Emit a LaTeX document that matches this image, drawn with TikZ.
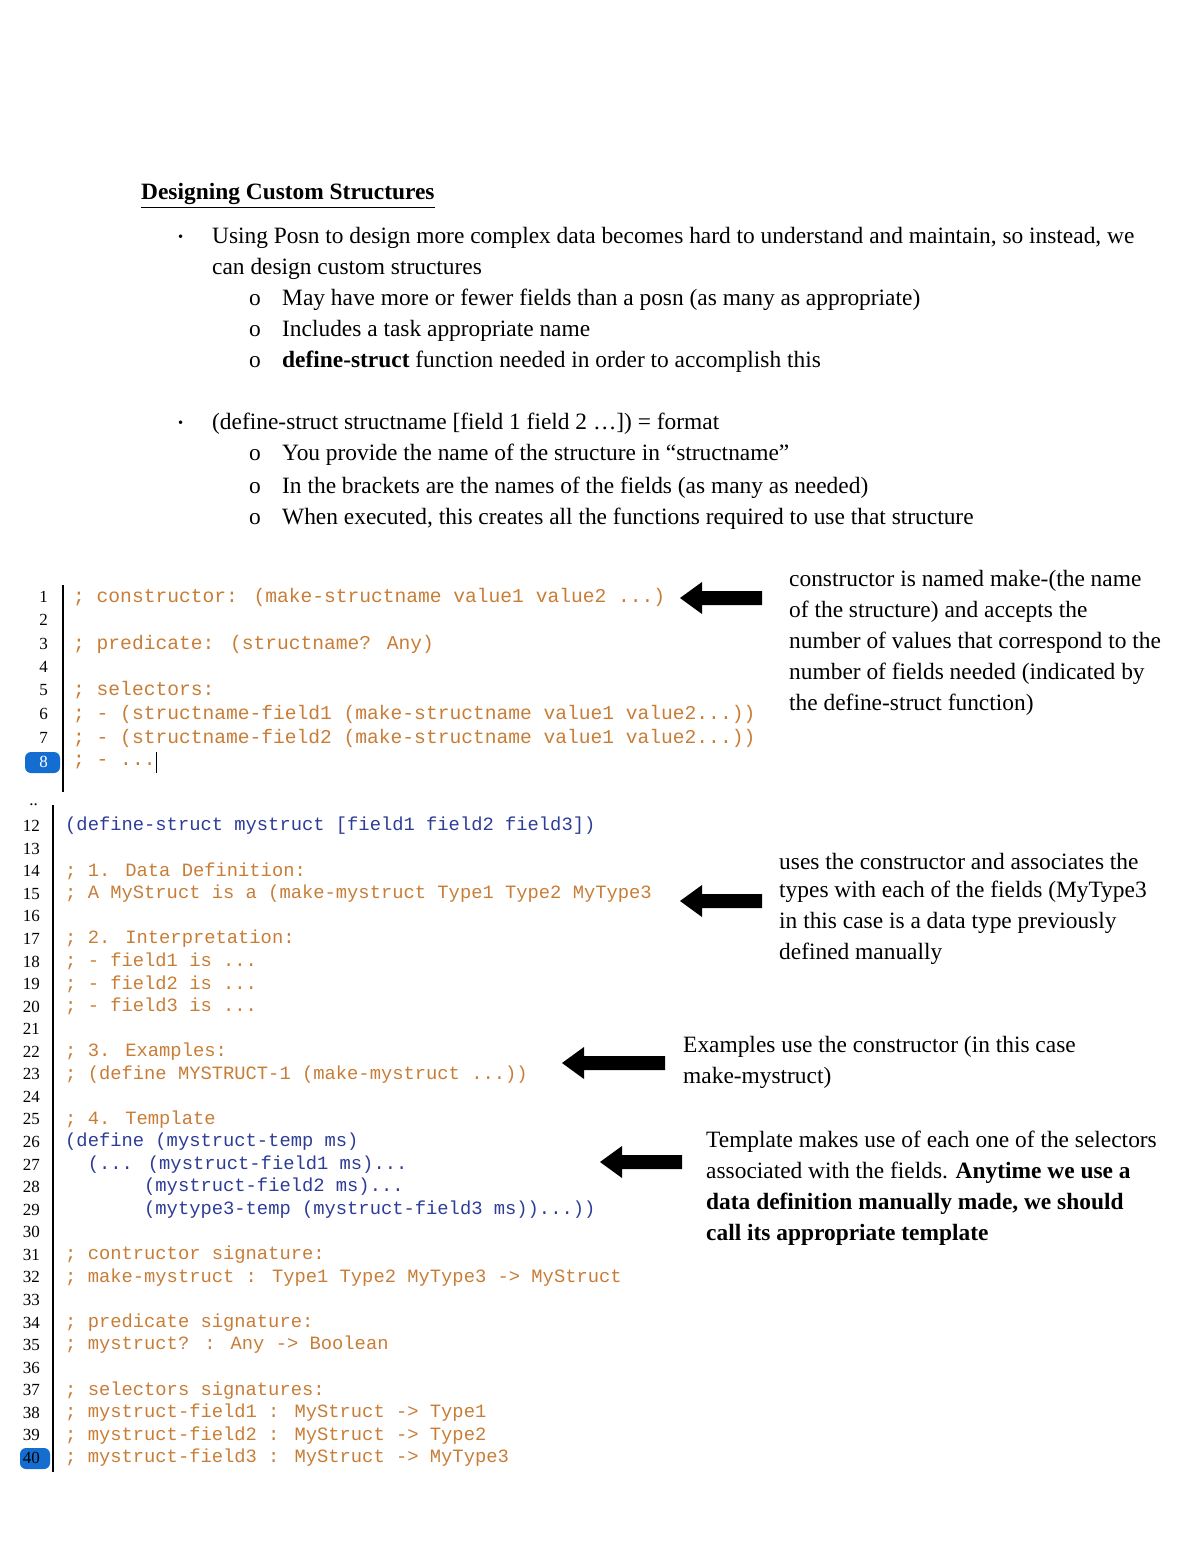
\documentclass[tikz,border=0pt]{standalone}
\usepackage{fontspec}
\setmainfont{Liberation Serif}
\newfontfamily\codefont{Liberation Mono}
\definecolor{cmt}{RGB}{200,125,55}
\definecolor{cde}{RGB}{45,60,150}
\definecolor{curblue}{RGB}{20,110,210}
\begin{document}
\begin{tikzpicture}[x=1pt,y=-1pt,
  txt/.style={anchor=west,inner sep=0pt,font=\fontsize{23.4}{26}\selectfont},
  cmtline/.style={anchor=west,inner sep=0pt,font=\codefont\fontsize{18.8}{22}\selectfont,text=cmt},
  cdeline/.style={anchor=west,inner sep=0pt,font=\codefont\fontsize{18.8}{22}\selectfont,text=cde},
  cmtone/.style={cmtline,font=\codefont\fontsize{19.6}{22}\selectfont},
  num/.style={anchor=east,inner sep=0pt,font=\fontsize{17}{20}\selectfont},
  bigarrow/.style={fill=black}]
\useasboundingbox (0,0) rectangle (1200,1553);
% heading
\node[txt,font=\bfseries\fontsize{23.4}{26}\selectfont] (title) at (141,194) {Designing Custom Structures};
\draw[line width=1pt] (title.south west) ++(0,3) -- ([yshift=-3pt]title.south east);
\node[txt] (b1) at (178,238) {\Large\textbullet};
\node[txt] (t1) at (212,238) {Using Posn to design more complex data becomes hard to understand and maintain, so instead, we};
\node[txt] (t1b) at (212,269) {can design custom structures};
\foreach \y/\t [count=\i] in {300/{May have more or fewer fields than a posn (as many as appropriate)},331/{Includes a task appropriate name},362/{\textbf{define-struct} function needed in order to accomplish this}}{
  \node[txt] (sa\i) at (249,\y) {o};
  \node[txt] (ta\i) at (282,\y) {\t};}
\node[txt] (b2) at (178,424) {\Large\textbullet};
\node[txt] (t2) at (212,424) {(define-struct structname [field 1 field 2 \dots]) = format};
\foreach \y/\t [count=\i] in {455/{You provide the name of the structure in ``structname''},488/{In the brackets are the names of the fields (as many as needed)},519/{When executed, this creates all the functions required to use that structure}}{
  \node[txt] (sb\i) at (249,\y) {o};
  \node[txt] (tb\i) at (282,\y) {\t};}
% code block 1
\draw[line width=1.5pt] (63,585) -- (63,792);
\fill[curblue,rounded corners=6pt] (25,752) rectangle (60,773);
\foreach \n/\y in {1/597,2/620,3/644,4/667,5/690,6/714,7/738}{\node[num] (na\n) at (48,\y) {\n};}
\node[num,text=white] (na8) at (48,762) {8};
\node[cmtone] (c1) at (73,597) {; constructor: (make-structname value1 value2 ...)};
\node[cmtone] (c3) at (73,644) {; predicate: (structname? Any)};
\node[cmtone] (c5) at (73,690) {; selectors:};
\node[cmtone] (c6) at (73,714) {; - (structname-field1 (make-structname value1 value2...))};
\node[cmtone] (c7) at (73,738) {; - (structname-field2 (make-structname value1 value2...))};
\node[cmtone] (c8) at (73,762) {; - ...};
\draw[line width=1pt] (156,752) -- (156,773);
% code block 2
\draw[line width=1.5pt] (53,805) -- (53,1472);
\fill[curblue,rounded corners=6pt] (20,1448) rectangle (50,1469);
\node[num] (n11) at (38,805) {..};
\foreach \n [evaluate=\n as \y using {826+(\n-12)*22.57}] in {12,...,39}{\node[num] (nb\n) at (40,\y) {\n};}
\node[num] (nb40) at (40,1458) {40};
\node[cdeline] (d12) at (65,826) {(define-struct mystruct [field1 field2 field3])};
\foreach \n/\t in {14/{; 1. Data Definition:},15/{; A MyStruct is a (make-mystruct Type1 Type2 MyType3},17/{; 2. Interpretation:},18/{; - field1 is ...},19/{; - field2 is ...},20/{; - field3 is ...},22/{; 3. Examples:},23/{; (define MYSTRUCT-1 (make-mystruct ...))},25/{; 4. Template},31/{; contructor signature:},32/{; make-mystruct : Type1 Type2 MyType3 -> MyStruct},34/{; predicate signature:},35/{; mystruct? : Any -> Boolean},37/{; selectors signatures:},38/{; mystruct-field1 : MyStruct -> Type1},39/{; mystruct-field2 : MyStruct -> Type2},40/{; mystruct-field3 : MyStruct -> MyType3}}{
  \pgfmathsetmacro\yy{826+(\n-12)*22.57}
  \node[cmtline] (d\n) at (65,\yy) {\t};}
\foreach \n/\t in {26/{(define (mystruct-temp ms)},27/{\ \ (... (mystruct-field1 ms)...},28/{\ \ \ \ \ \ \ (mystruct-field2 ms)...},29/{\ \ \ \ \ \ \ (mytype3-temp (mystruct-field3 ms))...))}}{
  \pgfmathsetmacro\yy{826+(\n-12)*22.57}
  \node[cdeline] (d\n) at (65,\yy) {\t};}
% arrows
\foreach \k/\xa/\xb/\y in {1/680/762/598,2/680/762/901,3/562/665/1063,4/600/682/1162}{
  \coordinate (ah\k) at (\xa,\y);
  \fill[bigarrow] (\xb,\y-7) -- (\xa+22,\y-7) -- (\xa+22,\y-16) -- (ah\k) -- (\xa+22,\y+16) -- (\xa+22,\y+7) -- (\xb,\y+7) -- cycle;}
% notes
\foreach \y/\t [count=\i] in {581/{constructor is named make-(the name},612/{of the structure) and accepts the},643/{number of values that correspond to the},674/{number of fields needed (indicated by},705/{the define-struct function)}}{
  \node[txt] (ra\i) at (789,\y) {\t};}
\foreach \y/\t [count=\i] in {861/{uses the constructor and associates the},892/{types with each of the fields (MyType3},923/{in this case is a data type previously},954/{defined manually}}{
  \node[txt] (rb\i) at (779,\y) {\t};}
\node[txt] (rc1) at (683,1047) {Examples use the constructor (in this case};
\node[txt] (rc2) at (683,1078) {make-mystruct)};
\node[txt] (rd1) at (706,1142) {Template makes use of each one of the selectors};
\node[txt] (rd2) at (706,1173) {associated with the fields. \textbf{Anytime we use a}};
\node[txt] (rd3) at (706,1204) {\textbf{data definition manually made, we should}};
\node[txt] (rd4) at (706,1235) {\textbf{call its appropriate template}};
\end{tikzpicture}
\end{document}
